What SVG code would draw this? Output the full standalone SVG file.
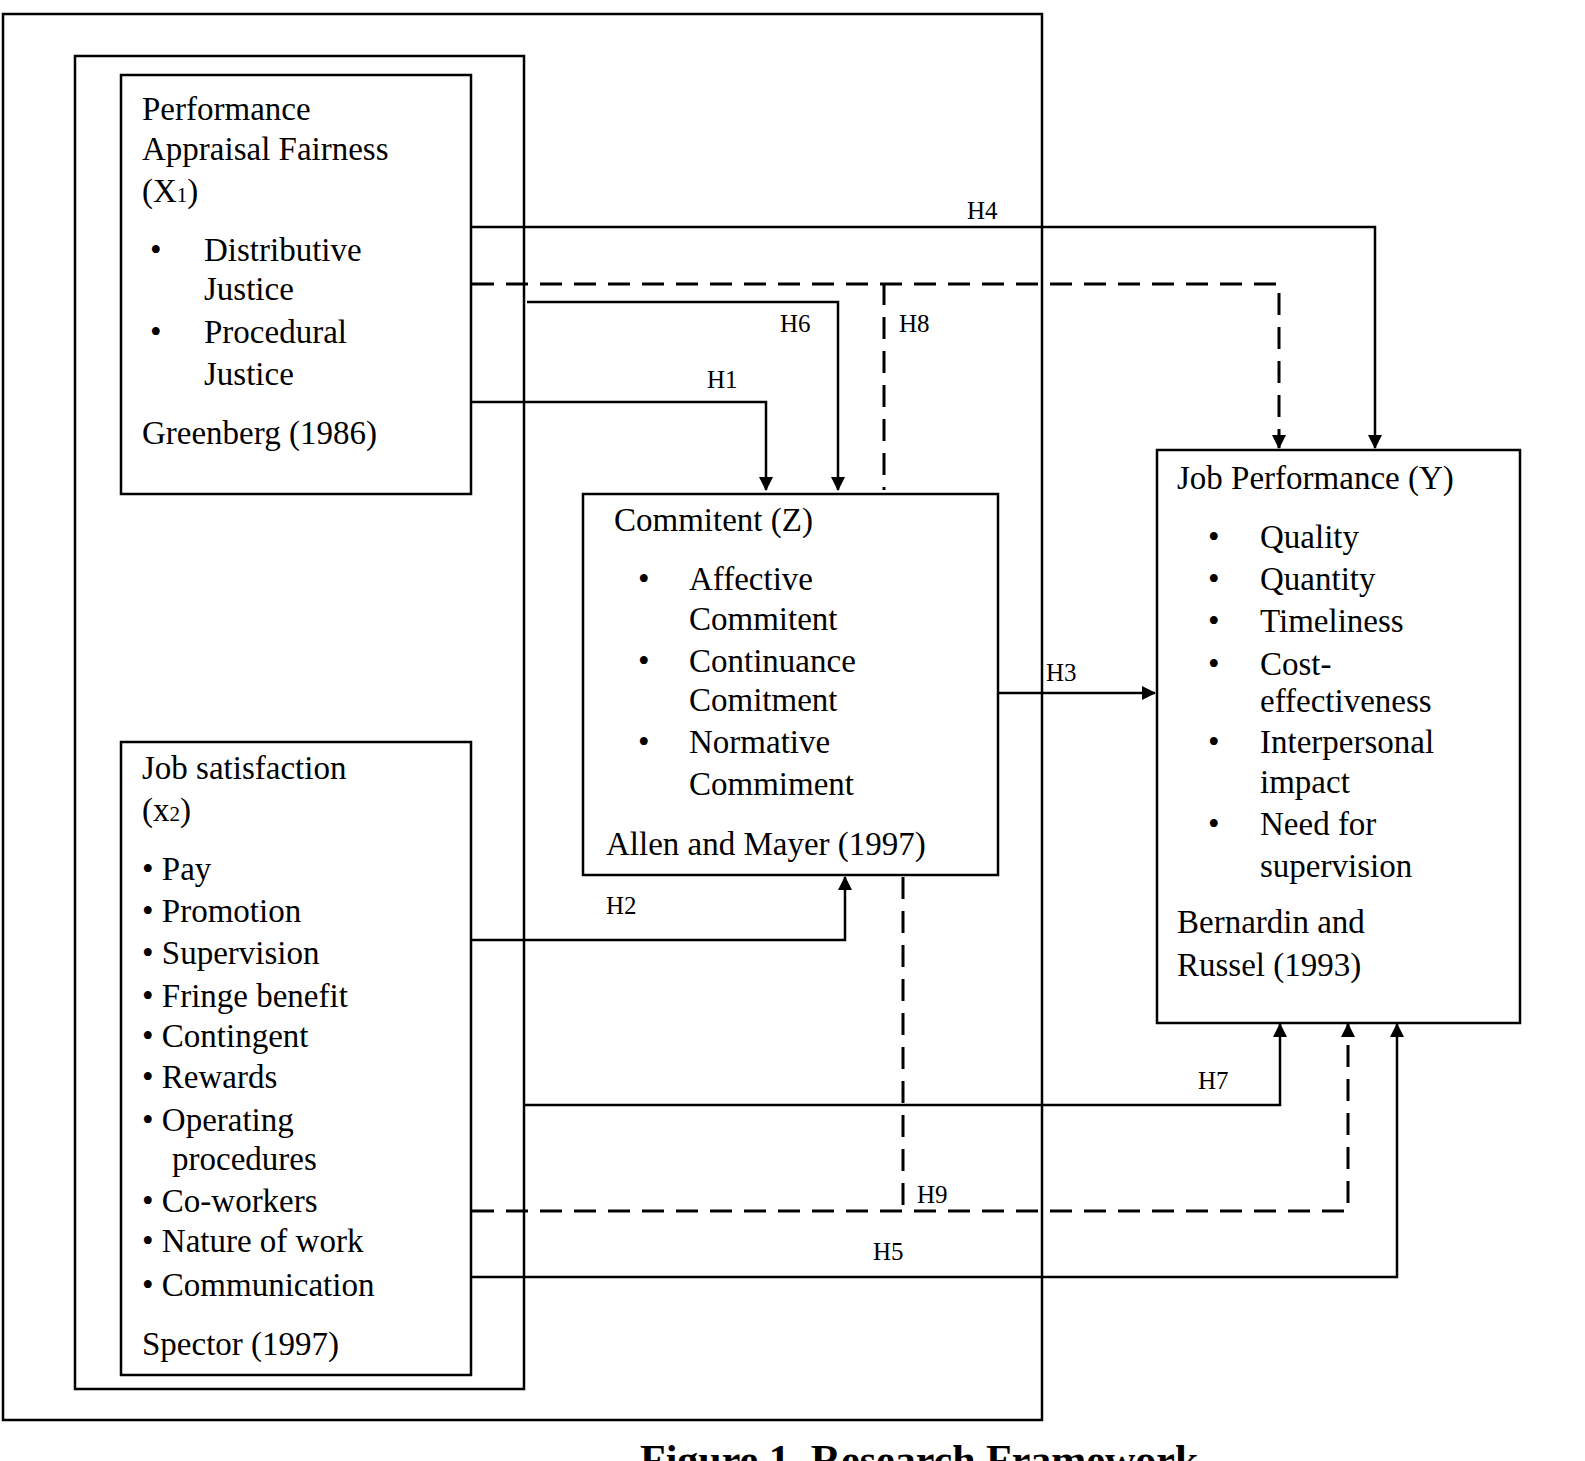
<svg xmlns="http://www.w3.org/2000/svg" width="1585" height="1461" viewBox="0 0 1585 1461">
<style>
.b{fill:none;stroke:#000;stroke-width:2.5}
.t{font-family:"Liberation Serif",serif;font-size:33px;fill:#000}
.h{font-family:"Liberation Serif",serif;font-size:25px;fill:#000}
.c{fill:none;stroke:#000;stroke-width:2.5}
.d{fill:none;stroke:#000;stroke-width:3;stroke-dasharray:22,12}
</style>
<defs><marker id="m" markerWidth="14" markerHeight="14" refX="13" refY="7" orient="auto" markerUnits="userSpaceOnUse" viewBox="0 0 14 14"><path d="M0,0L14,7L0,14z" fill="#000"/></marker></defs>
<rect width="1585" height="1461" fill="#fff"/>
<rect class="b" x="3" y="14" width="1039" height="1406"/>
<rect class="b" x="75" y="56" width="449" height="1333"/>
<g id="x1"><rect class="b" x="121" y="75" width="350" height="419" fill="#fff"/>
<text class="t" x="142" y="120">Performance</text><text class="t" x="142" y="160">Appraisal Fairness</text><text class="t" x="142" y="202">(X<tspan font-size="21">1</tspan>)</text>
<text class="t" x="150" y="261">•</text><text class="t" x="204" y="261">Distributive</text><text class="t" x="204" y="300">Justice</text>
<text class="t" x="150" y="343">•</text><text class="t" x="204" y="343">Procedural</text><text class="t" x="204" y="385">Justice</text>
<text class="t" x="142" y="444">Greenberg (1986)</text></g>
<g id="x2"><rect class="b" x="121" y="742" width="350" height="633" fill="#fff"/>
<text class="t" x="142" y="779">Job satisfaction</text><text class="t" x="142" y="821">(x<tspan font-size="21">2</tspan>)</text>
<g class="t"><text x="142" y="880">• Pay</text><text x="142" y="922">• Promotion</text><text x="142" y="964">• Supervision</text><text x="142" y="1007">• Fringe benefit</text><text x="142" y="1047">• Contingent</text><text x="142" y="1088">• Rewards</text><text x="142" y="1131">• Operating</text><text x="172" y="1170">procedures</text><text x="142" y="1212">• Co-workers</text><text x="142" y="1252">• Nature of work</text><text x="142" y="1296">• Communication</text><text x="142" y="1355">Spector (1997)</text></g></g>
<g id="z"><rect class="b" x="583" y="494" width="415" height="381" fill="#fff"/>
<g class="t"><text x="614" y="531">Commitent (Z)</text><text x="638" y="590">•</text><text x="689" y="590">Affective</text><text x="689" y="630">Commitent</text><text x="638" y="672">•</text><text x="689" y="672">Continuance</text><text x="689" y="711">Comitment</text><text x="638" y="753">•</text><text x="689" y="753">Normative</text><text x="689" y="795">Commiment</text><text x="606" y="855">Allen and Mayer (1997)</text></g></g>
<g id="y"><rect class="b" x="1157" y="450" width="363" height="573" fill="#fff"/>
<g class="t"><text x="1177" y="489">Job Performance (Y)</text>
<text x="1208" y="548">•</text><text x="1260" y="548">Quality</text>
<text x="1208" y="590">•</text><text x="1260" y="590">Quantity</text>
<text x="1208" y="632">•</text><text x="1260" y="632">Timeliness</text>
<text x="1208" y="675">•</text><text x="1260" y="675">Cost-</text><text x="1260" y="712">effectiveness</text>
<text x="1208" y="753">•</text><text x="1260" y="753">Interpersonal</text><text x="1260" y="793">impact</text>
<text x="1208" y="835">•</text><text x="1260" y="835">Need for</text><text x="1260" y="877">supervision</text>
<text x="1177" y="933">Bernardin and</text><text x="1177" y="976">Russel  (1993)</text></g></g>
<g id="connectors">
<path class="c" d="M472,227H1375V448" marker-end="url(#m)"/>
<path class="d" d="M472,284H1279V448" marker-end="url(#m)"/>
<path class="c" d="M527,302H838V490" marker-end="url(#m)"/>
<path class="c" d="M472,402H766V490" marker-end="url(#m)"/>
<path class="d" d="M884,283V490"/>
<path class="c" d="M998,693H1155" marker-end="url(#m)"/>
<path class="c" d="M472,940H845V877" marker-end="url(#m)"/>
<path class="c" d="M525,1105H1280V1024" marker-end="url(#m)"/>
<path class="d" d="M903,877V1211"/>
<path class="d" d="M472,1211H1348V1024" marker-end="url(#m)"/>
<path class="c" d="M472,1277H1397V1024" marker-end="url(#m)"/>
</g>
<g class="h"><text x="967" y="219">H4</text><text x="780" y="332">H6</text><text x="899" y="332">H8</text><text x="707" y="388">H1</text><text x="1046" y="681">H3</text><text x="606" y="914">H2</text><text x="1198" y="1089">H7</text><text x="917" y="1203">H9</text><text x="873" y="1260">H5</text></g>
<text x="640" y="1474" font-family="Liberation Serif,serif" font-size="42" font-weight="bold">Figure 1. Research Framework</text>
</svg>
